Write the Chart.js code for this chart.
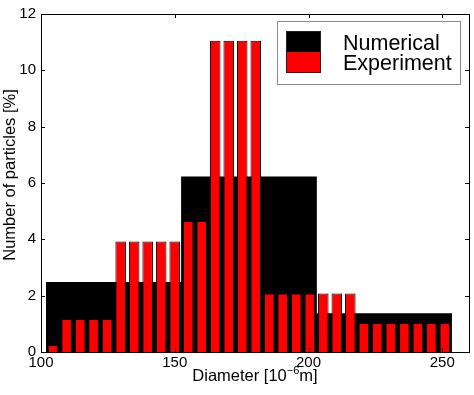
<!DOCTYPE html>
<html>
<head>
<meta charset="utf-8">
<script src="https://cdn.jsdelivr.net/npm/chart.js@4/dist/chart.umd.min.js"></script>
<style>
  html, body { margin: 0; padding: 0; background: #fff; }
  canvas { display: block; }
</style>
</head>
<body>
<canvas id="histChart" width="474" height="395"></canvas>
<script>
// bins of the numerical result (centres in micrometres, values in %)
const numCenters = [127.25, 177.75, 228.25];
const numValues = [2.47, 6.22, 1.36];

// bins of the experiment
const expCenters = [104.53, 109.58, 114.63, 119.68, 124.73, 129.78, 134.83, 139.88, 144.93, 149.98,
  155.03, 160.08, 165.13, 170.18, 175.23, 180.28, 185.33, 190.38, 195.43, 200.48,
  205.53, 210.58, 215.63, 220.68, 225.73, 230.78, 235.83, 240.88, 245.93, 250.98];
const expValues = [0.25, 1.17, 1.17, 1.17, 1.17, 3.92, 3.92, 3.92, 3.92, 3.92,
  4.65, 4.65, 11.05, 11.05, 11.05, 11.05, 2.08, 2.08, 2.08, 2.08,
  2.08, 2.08, 2.08, 1.03, 1.03, 1.03, 1.03, 1.03, 1.03, 1.03];

const seriesNames = ['Numerical', 'Experiment'];
const xTicks = [100, 150, 200, 250];
const yTicks = [0, 2, 4, 6, 8, 10, 12];

const FONT = '"Liberation Sans", Arial, Helvetica, sans-serif';

const toPoints = (xs, ys) => xs.map((x, i) => ({ x: x, y: ys[i] }));

// box, inward ticks, axis titles and legend in the matlab look
const matlabLook = {
  id: 'matlabLook',
  afterDatasetsDraw(chart) {
    const { ctx, chartArea: a, scales } = chart;
    const len = 4;
    ctx.save();
    ctx.strokeStyle = '#000';
    ctx.lineWidth = 1;
    ctx.strokeRect(Math.round(a.left) + 0.5, Math.round(a.top) + 0.5,
      Math.round(a.right - a.left), Math.round(a.bottom - a.top));
    ctx.beginPath();
    xTicks.forEach(v => {
      const px = Math.round(scales.x.getPixelForValue(v)) + 0.5;
      ctx.moveTo(px, a.bottom); ctx.lineTo(px, a.bottom - len);
      ctx.moveTo(px, a.top); ctx.lineTo(px, a.top + len);
    });
    yTicks.forEach(v => {
      const py = Math.round(scales.y.getPixelForValue(v)) + 0.5;
      ctx.moveTo(a.left, py); ctx.lineTo(a.left + len, py);
      ctx.moveTo(a.right, py); ctx.lineTo(a.right - len, py);
    });
    ctx.stroke();
    ctx.restore();
  },
  afterDraw(chart) {
    const { ctx, chartArea: a } = chart;
    ctx.save();
    ctx.fillStyle = '#000';

    // x title with superscript
    const big = '16.5px ' + FONT, small = '11px ' + FONT;
    const p1 = 'Diameter [10', p2 = '\u22126', p3 = 'm]';
    ctx.font = big; const w1 = ctx.measureText(p1).width, w3 = ctx.measureText(p3).width;
    ctx.font = small; const w2 = ctx.measureText(p2).width;
    let x = (a.left + a.right) / 2 - (w1 + w2 + w3) / 2;
    const base = 381;
    ctx.textBaseline = 'alphabetic';
    ctx.textAlign = 'left';
    ctx.font = big; ctx.fillText(p1, x, base); x += w1;
    ctx.font = small; ctx.fillText(p2, x, base - 7); x += w2;
    ctx.font = big; ctx.fillText(p3, x, base);

    // y title
    ctx.save();
    ctx.translate(15, (a.top + a.bottom) / 2 - 8);
    ctx.rotate(-Math.PI / 2);
    ctx.textAlign = 'center';
    ctx.font = '16.5px ' + FONT;
    ctx.fillText('Number of particles [%]', 0, 0);
    ctx.restore();

    // legend
    const lx = 277, ly = 21, lw = 183, lh = 63;
    ctx.fillStyle = '#fff';
    ctx.fillRect(lx, ly, lw, lh);
    ctx.strokeStyle = '#8a8a8a';
    ctx.lineWidth = 1;
    ctx.strokeRect(lx + 0.5, ly + 0.5, lw, lh);
    const ds = chart.data.datasets;
    const sw = [[286, 31, 35, 21], [286, 52, 35, 21]];
    ds.forEach((d, i) => {
      const [sx, sy, sww, shh] = sw[i];
      ctx.fillStyle = d.backgroundColor;
      ctx.fillRect(sx, sy, sww, shh);
      ctx.fillStyle = '#000';
      ctx.font = '21.5px ' + FONT;
      ctx.textAlign = 'left';
      ctx.fillText(d.label, 343, i === 0 ? 50 : 70);
    });
    ctx.strokeStyle = '#222';
    ctx.strokeRect(286.5, 31.5, 34, 41);
    ctx.restore();
  }
};

new Chart(document.getElementById('histChart'), {
  type: 'bar',
  data: {
    datasets: [
      {
        label: seriesNames[0],
        data: toPoints(numCenters, numValues),
        xAxisID: 'x2',
        backgroundColor: '#000000',
        borderWidth: 0,
        barPercentage: 1,
        categoryPercentage: 1,
        grouped: false,
        order: 2
      },
      {
        label: seriesNames[1],
        data: toPoints(expCenters, expValues),
        xAxisID: 'x',
        backgroundColor: '#ff0000',
        borderColor: '#000000',
        borderWidth: 1,
        barPercentage: 0.78,
        categoryPercentage: 1,
        grouped: false,
        order: 1
      }
    ]
  },
  options: {
    responsive: false,
    animation: false,
    layout: { padding: { top: 13, right: 5, left: 0, bottom: 0 } },
    plugins: {
      legend: { display: false },
      tooltip: { enabled: false },
      title: { display: false }
    },
    scales: {
      x: {
        type: 'linear',
        min: 100,
        max: 260,
        offset: false,
        afterBuildTicks: scale => { scale.ticks = xTicks.map(v => ({ value: v })); },
        afterFit: scale => { scale.height = 43; },
        grid: { display: false, drawTicks: false, offset: false },
        border: { display: false },
        ticks: {
          color: '#000',
          padding: 2,
          maxRotation: 0,
          font: { family: FONT, size: 15 }
        }
      },
      x2: {
        type: 'linear',
        display: false,
        min: 100,
        max: 260,
        offset: false,
        grid: { offset: false },
        afterBuildTicks: scale => { scale.ticks = [{ value: 100 }, { value: 260 }]; }
      },
      y: {
        min: 0,
        max: 12,
        afterBuildTicks: scale => { scale.ticks = yTicks.map(v => ({ value: v })); },
        afterFit: scale => { scale.width = 41; },
        grid: { display: false, drawTicks: false },
        border: { display: false },
        ticks: {
          color: '#000',
          padding: 5,
          font: { family: FONT, size: 15 }
        }
      }
    }
  },
  plugins: [matlabLook]
});
</script>
</body>
</html>
